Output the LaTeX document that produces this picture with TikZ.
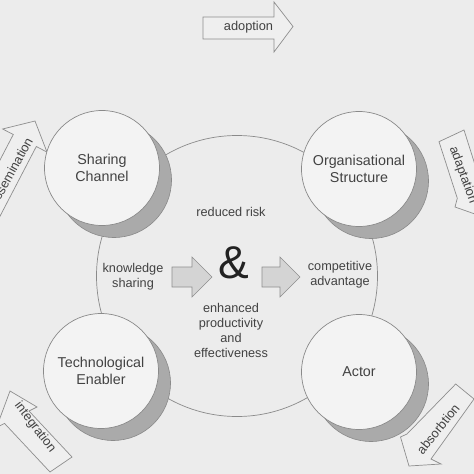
\documentclass[tikz,border=0pt]{standalone}
\usepackage{fontspec}
\setmainfont{Liberation Sans}
\definecolor{bg}{HTML}{ECECEC}
\definecolor{circfill}{HTML}{F3F3F3}
\definecolor{shadowgray}{HTML}{AAAAAA}
\definecolor{linegray}{HTML}{8A8A8A}
\definecolor{arrowgray}{HTML}{8E8E8E}
\definecolor{arrowfill}{HTML}{EFEFEF}
\definecolor{innerfill}{HTML}{D4D4D4}
\definecolor{txtgray}{HTML}{424242}
\definecolor{ampcol}{HTML}{222222}
\begin{document}
\begin{tikzpicture}[x=1pt,y=-1pt,
  every node/.style={text=txtgray, font=\fontsize{12.7}{15}\selectfont, align=center, inner sep=0pt},
  smallcirc/.style={circle, draw=linegray, line width=0.7pt, fill=circfill, minimum size=115pt, font=\fontsize{14.3}{17}\selectfont},
  shadowcirc/.style={circle, draw=linegray, line width=0.6pt, fill=shadowgray, minimum size=115pt},
  bigcirc/.style={circle, draw=linegray, line width=0.7pt, minimum size=281pt},
  outerarrow/.style={draw=arrowgray, line width=0.7pt, fill=arrowfill, line join=miter},
  innerarrow/.style={draw=arrowgray, line width=0.6pt, fill=innerfill, line join=miter},
  arrowlabel/.style={font=\fontsize{12.8}{15}\selectfont}]
\useasboundingbox (0,0) rectangle (474,474);
\clip (0,0) rectangle (474,474);
\fill[bg] (0,0) rectangle (474,474);

% big circle
\node[bigcirc] (big) at (237,276) {};

% outer block arrows
\draw[outerarrow] (203,17) -- (274,17) -- (274,2) -- (293,26.5) -- (274,52) -- (274,39) -- (203,39) -- cycle;
\node[arrowlabel] (adoption) at (248.5,27) {adoption};

\draw[outerarrow] (-7.6,230.8) -- (36.3,146.5) -- (47,152.1) -- (35,121) -- (2.6,129) -- (13.3,134.5) -- (-30.6,218.8) -- cycle;
\node[arrowlabel, rotate=61] (dissemination) at (10.3,172.9) {dissemination};

\draw[outerarrow] (439,141.7) -- (464,130) -- (482,187) -- (505,180) -- (492,220) -- (455,207) -- (457.3,198.3) -- cycle;
\node[arrowlabel, rotate=-70] (adaptation) at (463,175) {adaptation};

\draw[outerarrow] (455.7,384) -- (474,399) -- (431,459) -- (441,464) -- (409,466) -- (400.5,437) -- (407,434) -- cycle;
\node[arrowlabel, rotate=51] (absorbtion) at (438,429) {absorbtion};

\draw[outerarrow] (10,391) -- (37,407) -- (29,411) -- (72,457) -- (50,472) -- (4.5,423.4) -- (-3.5,427.4) -- cycle;
\node[arrowlabel, rotate=-53] (integration) at (35,427.5) {integration};

% shadows
\node[shadowcirc] (scs) at (114,180) {};
\node[shadowcirc] (oss) at (371,181) {};
\node[shadowcirc] (tes) at (113,383) {};
\node[shadowcirc] (acs) at (371,384) {};

% circles
\node[smallcirc] (sc) at (102,168) {Sharing\\Channel};
\node[smallcirc] (os) at (359,169) {Organisational\\Structure};
\node[smallcirc] (te) at (101,371) {Technological\\Enabler};
\node[smallcirc] (ac) at (359,372) {Actor};

% inner texts
\node (risk) at (231,212) {reduced risk};
\node (ks) at (133,276.5) {knowledge\\sharing};
\node (ca) at (340,274.5) {competitive\\advantage};
\node (epe) at (231,330.5) {enhanced\\productivity\\and\\effectiveness};
\node[text=ampcol, font=\fontsize{46}{46}\selectfont] (amp) at (233.5,262.5) {\&};

% inner arrows
\draw[innerarrow] (172,267) -- (192,267) -- (192,257) -- (212,277) -- (192,297) -- (192,287) -- (172,287) -- cycle;
\draw[innerarrow] (262,267) -- (280,267) -- (280,257) -- (300,277) -- (280,297) -- (280,287) -- (262,287) -- cycle;
\end{tikzpicture}
\end{document}
